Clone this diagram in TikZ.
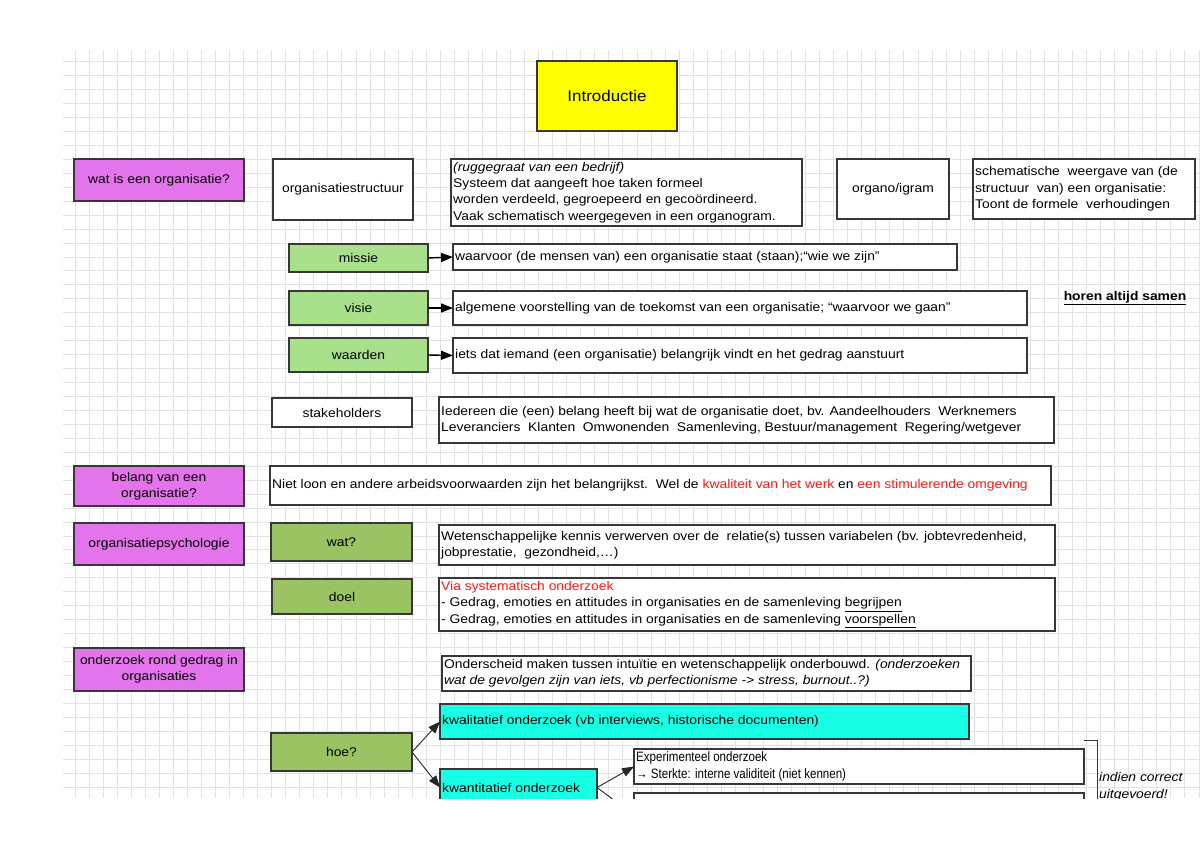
\documentclass[tikz,border=0pt]{standalone}
\usepackage{fontspec}
\setmainfont{Liberation Sans}[FakeStretch=1.1]
\newfontfamily\narrowfont{Liberation Sans}[FakeStretch=0.85]
\usetikzlibrary{arrows.meta}
\definecolor{magbox}{RGB}{228,116,236}
\definecolor{lgreen}{RGB}{168,224,140}
\definecolor{ogreen}{RGB}{155,195,100}
\definecolor{cyanbox}{RGB}{24,255,230}
\definecolor{yelbox}{RGB}{255,255,0}
\definecolor{bcol}{RGB}{55,55,55}
\definecolor{gridc}{RGB}{226,226,226}
\definecolor{redtxt}{RGB}{255,25,25}
\newcommand\fs{\fontsize{12.6}{16.3}\selectfont}
\newcommand\fsbig{\fontsize{15.4}{18}\selectfont}
\newcommand\fsnar{\fontsize{13.6}{16.5}\selectfont\narrowfont}
\newcommand\mkbox[6]{%
  \pgfmathsetmacro\bxw{#4-#2}\pgfmathsetmacro\bxh{#5-#3}%
  \pgfmathsetmacro\bxcx{(#2+#4)/2}\pgfmathsetmacro\bxcy{(#3+#5)/2}%
  \node[#6, minimum width=\bxw pt, minimum height=\bxh pt] (#1) at (\bxcx,\bxcy) {};}
\tikzset{
  bx/.style={draw=bcol, line width=1.3pt, fill=white, inner sep=0pt, outer sep=0pt},
  magbx/.style={bx, fill=magbox},
  lgbx/.style={bx, fill=lgreen},
  ogbx/.style={bx, fill=ogreen},
  cybx/.style={bx, fill=cyanbox},
  yelbx/.style={bx, fill=yelbox},
  txt/.style={inner sep=0pt, font=\fs, align=left, anchor=west},
  ctxt/.style={inner sep=0pt, font=\fs, align=center},
  gridline/.style={draw=gridc, line width=1pt},
  arr/.style={draw=black!85, line width=0.9pt, -{Triangle[length=12pt,width=9pt]}},
  harr/.style={draw=black, line width=1.4pt, -{Triangle[length=12pt,width=9pt]}},
}
\begin{document}
\begin{tikzpicture}[x=1pt,y=-1pt]
\useasboundingbox (0,0) rectangle (1200,848);
\fill[white] (0,0) rectangle (1200,848);
\begin{scope}
\clip (0,0) rectangle (1200,798);
% grid
\foreach \i in {0,...,80} { \draw[gridline] ({75+14.05*\i},50) -- ({75+14.05*\i},798); }
\foreach \j in {0,...,52} { \draw[gridline] (63,{61.7+13.95*\j}) -- (1200,{61.7+13.95*\j}); }

% title
\mkbox{intro}{537}{61}{677}{131}{yelbx}
\node[ctxt, font=\fsbig] (introt) at (intro) {Introductie};

% row: wat is een organisatie
\mkbox{watis}{74}{159}{244}{201}{magbx}
\node[ctxt] (watist) at (watis) {wat is een organisatie?};
\mkbox{orgstr}{273}{159}{413}{220}{bx}
\node[ctxt] (orgstrt) at (orgstr) {organisatiestructuur};
\mkbox{rug}{451}{159}{802}{226}{bx}
\node[txt] (rugt) at ([xshift=2pt]rug.west) {\textit{(ruggegraat van een bedrijf)}\\Systeem dat aangeeft hoe taken formeel\\worden verdeeld, gegroepeerd en gecoördineerd.\\Vaak schematisch weergegeven in een organogram.};
\mkbox{organo}{837}{159}{949}{219}{bx}
\node[ctxt] (organot) at (organo) {organo/igram};
\mkbox{schem}{973}{159}{1195}{219}{bx}
\node[txt] (schemt) at ([xshift=2pt]schem.west) {schematische\ \ weergave van (de\\structuur\ \ van) een organisatie:\\Toont de formele\ \ verhoudingen};

% missie visie waarden
\mkbox{missie}{289}{244}{428}{272}{lgbx}
\node[ctxt] (missiet) at (missie) {missie};
\mkbox{missieb}{453}{244}{957}{270}{bx}
\node[txt] (missiebt) at ([xshift=2pt]missieb.west) {waarvoor (de mensen van) een organisatie staat (staan);“wie we zijn”};
\draw[harr] (missie.east) -- (missieb.west);

\mkbox{visie}{289}{291}{428}{325}{lgbx}
\node[ctxt] (visiet) at (visie) {visie};
\mkbox{visieb}{453}{291}{1027}{325}{bx}
\node[txt] (visiebt) at ([xshift=2pt]visieb.west) {algemene voorstelling van de toekomst van een organisatie; “waarvoor we gaan”};
\draw[harr] (visie.east) -- (visieb.west);

\mkbox{waarden}{289}{338}{428}{372}{lgbx}
\node[ctxt] (waardent) at (waarden) {waarden};
\mkbox{waardenb}{453}{338}{1027}{373}{bx}
\node[txt] (waardenbt) at ([xshift=2pt]waardenb.west) {iets dat iemand (een organisatie) belangrijk vindt en het gedrag aanstuurt};
\draw[harr] (waarden.east) -- (waardenb.west);

\node[ctxt] (horen) at (1125,298) {\textbf{\underline{horen altijd samen}}};

% stakeholders
\mkbox{stake}{272}{398}{412}{427}{bx}
\node[ctxt] (staket) at (stake) {stakeholders};
\mkbox{stakeb}{439}{397}{1054}{443}{bx}
\node[txt] (stakebt) at ([xshift=2pt]stakeb.west) {Iedereen die (een) belang heeft bij wat de organisatie doet, bv. Aandeelhouders\ \ Werknemers\\Leveranciers\ \ Klanten\ \ Omwonenden\ \ Samenleving, Bestuur/management\ \ Regering/wetgever};

% belang
\mkbox{belang}{74}{466}{244}{506}{magbx}
\node[ctxt] (belangt) at (belang) {belang van een\\organisatie?};
\mkbox{belangb}{270}{466}{1051}{505}{bx}
\node[txt] (belangbt) at ([xshift=2pt]belangb.west) {Niet loon en andere arbeidsvoorwaarden zijn het belangrijkst.\ \ Wel de \textcolor{redtxt}{kwaliteit van het werk} en \textcolor{redtxt}{een stimulerende omgeving}};

% organisatiepsychologie
\mkbox{orgpsy}{74}{523}{244}{565}{magbx}
\node[ctxt] (orgpsyt) at (orgpsy) {organisatiepsychologie};
\mkbox{wat}{271}{523}{412}{561}{ogbx}
\node[ctxt] (watt) at (wat) {wat?};
\mkbox{watb}{439}{525}{1055}{565}{bx}
\node[txt] (watbt) at ([xshift=2pt]watb.west) {Wetenschappelijke kennis verwerven over de\ \ relatie(s) tussen variabelen (bv. jobtevredenheid,\\jobprestatie,\ \ gezondheid,…)};
\mkbox{doel}{272}{579}{412}{614}{ogbx}
\node[ctxt] (doelt) at (doel) {doel};
\mkbox{doelb}{439}{578}{1055}{631}{bx}
\node[txt] (doelbt) at ([xshift=2pt]doelb.west) {\textcolor{redtxt}{Via systematisch onderzoek}\\- Gedrag, emoties en attitudes in organisaties en de samenleving \underline{begrijpen}\\- Gedrag, emoties en attitudes in organisaties en de samenleving \underline{voorspellen}};

% onderzoek
\mkbox{onderz}{74}{648}{244}{691}{magbx}
\node[ctxt] (onderzt) at (onderz) {onderzoek rond gedrag in\\organisaties};
\mkbox{onderb}{442}{656}{971}{691}{bx}
\node[txt] (onderbt) at ([xshift=2pt]onderb.west) {Onderscheid maken tussen intuïtie en wetenschappelijk onderbouwd. \textit{(onderzoeken}\\\textit{wat de gevolgen zijn van iets, vb perfectionisme -> stress, burnout..?)}};

% hoe
\mkbox{hoe}{271}{733}{412}{771}{ogbx}
\node[ctxt] (hoet) at (hoe) {hoe?};
\mkbox{kwal}{440}{704}{969}{739}{cybx}
\node[txt] (kwalt) at ([xshift=2pt]kwal.west) {kwalitatief onderzoek (vb interviews, historische documenten)};
\mkbox{kwant}{440}{769}{597}{806}{cybx}
\node[txt] (kwantt) at ([xshift=2pt]kwant.west) {kwantitatief onderzoek};
\mkbox{exp}{634}{749}{1084}{784}{bx}
\node[txt, font=\fsnar] (expt) at ([xshift=2pt]exp.west) {Experimenteel onderzoek\\ → Sterkte: interne validiteit (niet kennen)};
\mkbox{exptwo}{634}{793}{1084}{840}{bx}
\coordinate (exptwoin) at (634,815);
\draw[arr] (hoe.east) -- (kwal.west);
\draw[arr] (hoe.east) -- (kwant.west);
\draw[arr] (kwant.east) -- (exp.west);
\draw[arr] (kwant.east) -- (exptwoin);

% bracket and note
\draw[bcol, line width=1pt] (1084,740) -- (1097,740) -- (1097,820);
\node[txt, font=\fs\itshape] (indien) at (1099,777) {indien correct};
\node[txt, font=\fs\itshape] (uitgev) at (1099,795) {uitgevoerd!};
\end{scope}
\end{tikzpicture}
\end{document}
